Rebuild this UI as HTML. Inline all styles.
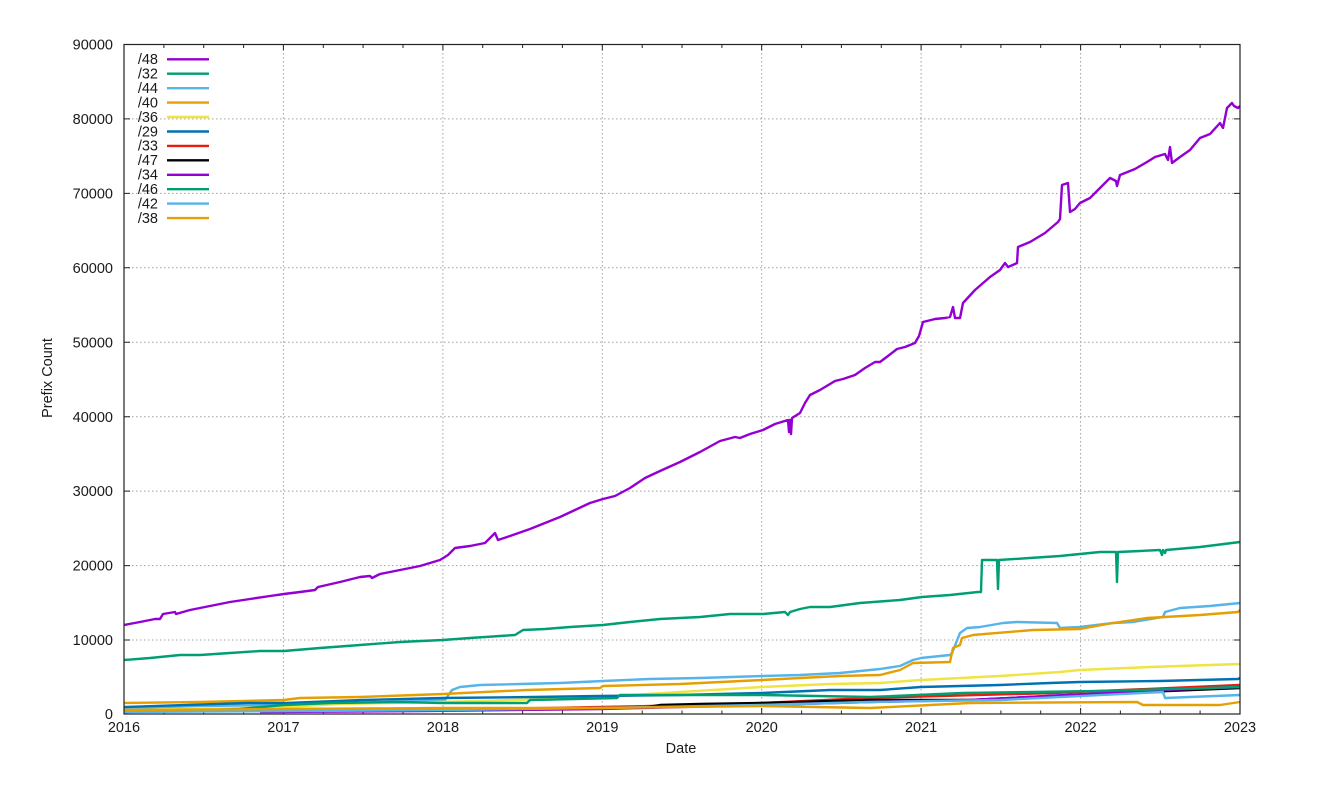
<!DOCTYPE html>
<html><head><meta charset="utf-8"><style>
html,body{margin:0;padding:0;background:#fff;}
svg{display:block;}
text{font-family:"Liberation Sans",Arial,sans-serif;font-size:14.5px;fill:#1a1a1a;}
</style></head><body>
<svg width="1320" height="790" viewBox="0 0 1320 790" xmlns="http://www.w3.org/2000/svg">
<rect width="1320" height="790" fill="#fff"/>
<g stroke="#a0a0a0" stroke-width="1" stroke-dasharray="1.5,2.5" fill="none">
<path d="M124,44.5H1240M124,118.9H1240M124,193.4H1240M124,267.8H1240M124,342.3H1240M124,416.7H1240M124,491.1H1240M124,565.6H1240M124,640H1240"/>
<path d="M283.4,45V714M442.9,45V714M602.3,45V714M761.7,45V714M921.1,45V714M1080.6,45V714"/>
</g>
<g stroke="#222" stroke-width="1" fill="none">
<path d="M124,44.5H130M124,118.9H130M124,193.4H130M124,267.8H130M124,342.3H130M124,416.7H130M124,491.1H130M124,565.6H130M124,640H130"/>
<path d="M1240,44.5H1234M1240,118.9H1234M1240,193.4H1234M1240,267.8H1234M1240,342.3H1234M1240,416.7H1234M1240,491.1H1234M1240,565.6H1234M1240,640H1234"/>
<path d="M283.4,714V708M442.9,714V708M602.3,714V708M761.7,714V708M921.1,714V708M1080.6,714V708M283.4,44.5V50.5M442.9,44.5V50.5M602.3,44.5V50.5M761.7,44.5V50.5M921.1,44.5V50.5M1080.6,44.5V50.5"/>
<path d="M163.9,714V710.5M203.7,714V710.5M243.6,714V710.5M323.3,714V710.5M363.1,714V710.5M403,714V710.5M482.7,714V710.5M522.6,714V710.5M562.4,714V710.5M642.2,714V710.5M682,714V710.5M721.9,714V710.5M801.6,714V710.5M841.4,714V710.5M881.3,714V710.5M961,714V710.5M1000.9,714V710.5M1040.7,714V710.5M1120.4,714V710.5M1160.3,714V710.5M1200.1,714V710.5"/>
<path d="M163.9,44.5V48M203.7,44.5V48M243.6,44.5V48M323.3,44.5V48M363.1,44.5V48M403,44.5V48M482.7,44.5V48M522.6,44.5V48M562.4,44.5V48M642.2,44.5V48M682,44.5V48M721.9,44.5V48M801.6,44.5V48M841.4,44.5V48M881.3,44.5V48M961,44.5V48M1000.9,44.5V48M1040.7,44.5V48M1120.4,44.5V48M1160.3,44.5V48M1200.1,44.5V48"/>
</g>
<g fill="none" stroke-width="2.4" stroke-linejoin="round">
<polyline stroke="#9400d3" points="124,625 140,622 155,619 160,619 163,614 175,612 176,614 190,610 210,606 230,602 250,599 270,596 284,594 300,592 315,590 318,587 340,582 360,577 370,576 372,578 380,574 400,570 420,566 440,560 448,555 455,548 470,546 485,543 490,538 495,533 498,540 510,536 530,529 550,521 560,517 575,510 590,503 603,499 615,496 630,488 645,478 660,471 680,462 700,452 720,441 735,437 740,438 750,434 763,430 775,424 788,420 789,432 790,420 791,434 792,418 800,413 805,403 810,395 820,390 830,384 835,381 843,379 855,375 865,368 875,362 880,362 888,356 897,349 905,347 915,343 919,336 923,322 935,319 945,318 950,317 953,307 955,318 960,318 963,303 975,290 990,277 1000,270 1005,263 1008,267 1015,264 1017,263 1018,247 1030,242 1045,233 1058,222 1060,219 1062,185 1068,183 1070,212 1075,209 1080,203 1090,198 1100,188 1110,178 1116,181 1117,186 1120,175 1135,169 1147,162 1155,157 1165,154 1168,160 1170,147 1172,163 1180,157 1190,150 1200,138 1210,134 1220,123 1223,128 1227,108 1232,103 1234,106 1238,108 1240,106"/>
<polyline stroke="#009e73" points="124,660 150,658 180,655 200,655 230,653 260,651 284,651 320,648 360,645 400,642 443,640 470,638 500,636 515,635 523,630 545,629 570,627 603,625 630,622 660,619 700,617 730,614 763,614 785,612 788,615 790,612 800,609 810,607 830,607 860,603 900,600 922,597 950,595 978,592 981,592 982,560 995,560 997,560 998,589 999,560 1030,558 1060,556 1080,554 1100,552 1116,552 1117,582 1118,552 1140,551 1160,550 1162,555 1163,550 1165,553 1166,550 1200,547 1240,542"/>
<polyline stroke="#56b4e9" points="124,708 200,706 284,705 350,703 420,701 445,700 452,690 460,687 480,685 520,684 560,683 603,681 650,679 700,678 763,676 800,675 840,673 880,669 900,666 913,660 921,658 950,655 952,653 960,633 967,628 980,627 1003,623 1017,622 1057,623 1060,628 1080,627 1113,623 1133,622 1163,617 1165,612 1180,608 1210,606 1240,603"/>
<polyline stroke="#e69f00" points="124,703 200,702 284,700 300,698 360,697 443,694 527,690 600,688 603,686 680,684 762,680 800,678 840,676 880,675 900,670 913,663 950,662 953,648 960,645 962,638 973,635 1033,630 1080,629 1113,623 1147,618 1200,615 1238,612 1240,610"/>
<polyline stroke="#f0e442" points="124,710 200,709 284,707 340,704 440,702 547,699 600,697 680,692 762,687 830,684 880,683 921,680 1000,676 1060,672 1080,670 1150,667 1240,664"/>
<polyline stroke="#0072b2" points="124,707 247,703 287,703 363,700 443,698 533,697 600,696 680,695 762,693 830,690 880,690 921,687 1000,685 1050,683 1080,682 1160,681 1238,679 1240,678"/>
<polyline stroke="#e51e10" points="232,711 320,711 400,710 550,708 700,705 762,703 870,698 1053,693 1240,685"/>
<polyline stroke="#000000" points="640,708 660,705 700,704 762,703 870,700 970,700 1070,695 1240,688"/>
<polyline stroke="#9400d3" points="260,712 420,711 600,709 762,705 870,702 970,700 1163,690 1240,687"/>
<polyline stroke="#009e73" points="124,712 180,711 240,709 284,705 330,703 400,702 443,703 527,703 530,700 617,698 620,695 762,695 870,697 963,693 1100,691 1240,687"/>
<polyline stroke="#56b4e9" points="124,712 300,711 443,710 600,708 762,705 870,702 1000,700 1163,692 1165,698 1240,695"/>
<polyline stroke="#e69f00" points="124,710 284,709 443,708 600,708 762,706 870,708 970,703 1137,702 1143,705 1220,705 1240,702"/>
</g>
<rect x="124" y="44.5" width="1116" height="669.5" fill="none" stroke="#222" stroke-width="1.2"/>
<g text-anchor="end">
<text x="113" y="49.5">90000</text>
<text x="113" y="124">80000</text>
<text x="113" y="198.5">70000</text>
<text x="113" y="273">60000</text>
<text x="113" y="347.5">50000</text>
<text x="113" y="422">40000</text>
<text x="113" y="496">30000</text>
<text x="113" y="570.5">20000</text>
<text x="113" y="645">10000</text>
<text x="113" y="719">0</text>
</g>
<g text-anchor="middle">
<text x="124" y="732">2016</text>
<text x="283.4" y="732">2017</text>
<text x="442.9" y="732">2018</text>
<text x="602.3" y="732">2019</text>
<text x="761.7" y="732">2020</text>
<text x="921.1" y="732">2021</text>
<text x="1080.6" y="732">2022</text>
<text x="1240" y="732">2023</text>
<text x="681" y="753">Date</text>
<text x="0" y="0" transform="translate(52,378) rotate(-90)">Prefix Count</text>
</g>
<g text-anchor="end">
<text x="158" y="64">/48</text>
<text x="158" y="78.5">/32</text>
<text x="158" y="93">/44</text>
<text x="158" y="107.4">/40</text>
<text x="158" y="121.8">/36</text>
<text x="158" y="136.3">/29</text>
<text x="158" y="150.7">/33</text>
<text x="158" y="165.1">/47</text>
<text x="158" y="179.6">/34</text>
<text x="158" y="194">/46</text>
<text x="158" y="208.4">/42</text>
<text x="158" y="222.9">/38</text>
</g>
<g stroke-width="2.4">
<line x1="167" x2="209" y1="59.3" y2="59.3" stroke="#9400d3"/>
<line x1="167" x2="209" y1="73.7" y2="73.7" stroke="#009e73"/>
<line x1="167" x2="209" y1="88.2" y2="88.2" stroke="#56b4e9"/>
<line x1="167" x2="209" y1="102.6" y2="102.6" stroke="#e69f00"/>
<line x1="167" x2="209" y1="117" y2="117" stroke="#f0e442"/>
<line x1="167" x2="209" y1="131.5" y2="131.5" stroke="#0072b2"/>
<line x1="167" x2="209" y1="145.9" y2="145.9" stroke="#e51e10"/>
<line x1="167" x2="209" y1="160.3" y2="160.3" stroke="#000000"/>
<line x1="167" x2="209" y1="174.8" y2="174.8" stroke="#9400d3"/>
<line x1="167" x2="209" y1="189.2" y2="189.2" stroke="#009e73"/>
<line x1="167" x2="209" y1="203.6" y2="203.6" stroke="#56b4e9"/>
<line x1="167" x2="209" y1="218.1" y2="218.1" stroke="#e69f00"/>
</g>
</svg>
</body></html>
